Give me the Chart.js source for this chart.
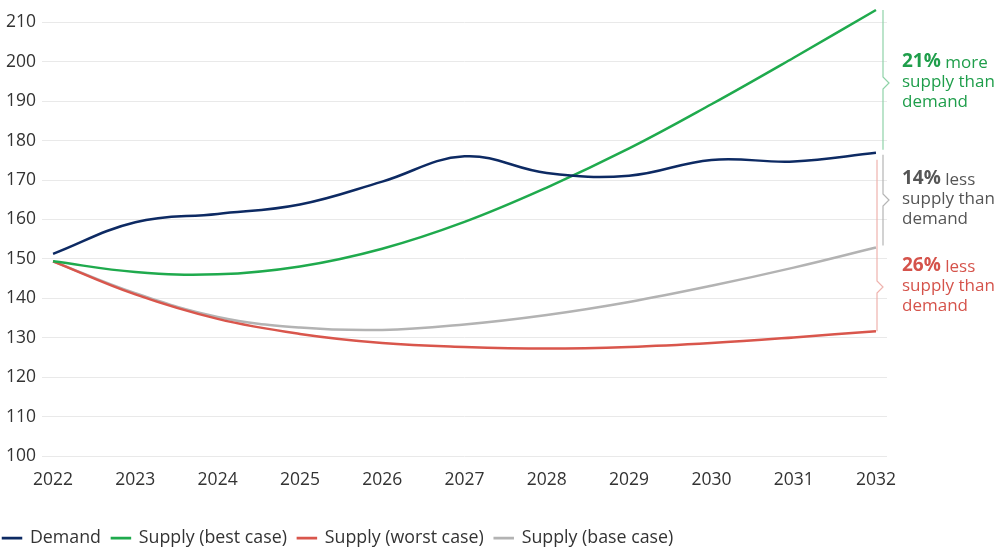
<!DOCTYPE html>
<html>
<head>
<meta charset="utf-8">
<script src="https://cdn.jsdelivr.net/npm/chart.js@4.4.1/dist/chart.umd.min.js"></script>
<style>
  html, body { margin: 0; padding: 0; background: #fff; }
  #wrap { width: 1000px; height: 557px; position: relative; }
</style>
</head>
<body>
<div id="wrap"><canvas id="chart"></canvas></div>
<script>
var years = [2022, 2023, 2024, 2025, 2026, 2027, 2028, 2029, 2030, 2031, 2032];
var demand = [151.3, 159.3, 161.4, 163.8, 169.6, 176.0, 171.8, 171.1, 175.1, 174.7, 176.9];
var supplyBest = [149.4, 146.7, 146.1, 148.1, 152.6, 159.4, 168.1, 178.0, 189.2, 201.0, 213.1];
var supplyWorst = [149.4, 141.0, 134.8, 131.0, 128.7, 127.7, 127.3, 127.7, 128.7, 130.1, 131.7];
var supplyBase = [149.4, 141.3, 135.3, 132.6, 132.0, 133.4, 135.8, 139.1, 143.2, 147.8, 152.9];
var yTicks = [100, 110, 120, 130, 140, 150, 160, 170, 180, 190, 200, 210];

var notes = [
  { big: '21%', rest: ' more', color: '#1f9e4b', line: '#8fd3a8' },
  { big: '14%', rest: ' less', color: '#555555', line: '#b5b5b5' },
  { big: '26%', rest: ' less', color: '#d5534b', line: '#efb3ae' }
];

function pts(arr) {
  return arr.map(function(v, i) { return { x: years[i], y: v }; });
}

function series(label, data, color) {
  return {
    label: label,
    data: pts(data),
    borderColor: color,
    backgroundColor: color,
    borderWidth: 2.5,
    pointRadius: 0,
    tension: 0.4,
    fill: false,
    clip: false
  };
}

// brackets + text on the right
var bracketPlugin = {
  id: 'brackets',
  afterLayout: function(chart) {
    // pull the legend a bit to the left edge
    chart.legend.left -= 8;
    chart.legend.right -= 8;
  },
  afterDraw: function(chart) {
    var ctx = chart.ctx;
    var ys = chart.scales.y;
    var last = years.length - 1;
    var px = function(v) { return ys.getPixelForValue(v); };
    var dem = px(demand[last]);
    var ranges = [
      { x: 883, top: px(supplyBest[last]), bottom: dem - 3 },
      { x: 883, top: dem + 2, bottom: px(supplyBase[last]) - 2 },
      { x: 877, top: dem + 7, bottom: px(supplyWorst[last]) }
    ];
    var mids = [83, 200, 287];
    ctx.save();
    ranges.forEach(function(r, i) {
      var n = notes[i];
      var mid = mids[i];
      ctx.strokeStyle = n.line;
      ctx.lineWidth = 1.2;
      ctx.beginPath();
      ctx.moveTo(r.x, r.top);
      ctx.lineTo(r.x, mid - 6);
      ctx.lineTo(r.x + 6, mid);
      ctx.lineTo(r.x, mid + 6);
      ctx.lineTo(r.x, r.bottom);
      ctx.stroke();

      ctx.fillStyle = n.color;
      ctx.textBaseline = 'middle';
      ctx.textAlign = 'left';
      ctx.font = 'bold 19px "Open Sans"';
      ctx.fillText(n.big, 902, mid - 21);
      var w = ctx.measureText(n.big).width;
      ctx.font = '17px "Open Sans"';
      ctx.fillText(n.rest, 902 + w, mid - 20);
      ctx.fillText('supply than', 902, mid - 1);
      ctx.fillText('demand', 902, mid + 19);
    });
    ctx.restore();
  }
};

Chart.defaults.font.family = '"Open Sans", sans-serif';
Chart.defaults.font.size = 17.5;
Chart.defaults.color = '#333333';

new Chart(document.getElementById('chart'), {
  type: 'line',
  data: {
    datasets: [
      series('Demand', demand, '#0d2a63'),
      series('Supply (best case)', supplyBest, '#1faa4d'),
      series('Supply (worst case)', supplyWorst, '#d9564c'),
      series('Supply (base case)', supplyBase, '#b3b3b3')
    ]
  },
  options: {
    responsive: true,
    maintainAspectRatio: false,
    animation: false,
    layout: { padding: { left: 0, right: 113, top: 8, bottom: 0 } },
    scales: {
      x: {
        type: 'linear',
        min: 2021.866,
        max: 2032.134,
        grid: { display: false },
        border: { display: false },
        ticks: {
          padding: 5,
          color: '#333',
          callback: function(v) { return String(v); }
        },
        afterBuildTicks: function(scale) {
          scale.ticks = years.map(function(y) { return { value: y }; });
        },
        afterFit: function(scale) {
          scale.height += 23;
          scale.paddingLeft = 0;
          scale.paddingRight = 0;
        }
      },
      y: {
        min: 100,
        max: 213.6,
        grid: { color: '#e9e9e9', drawTicks: false },
        border: { display: false },
        ticks: { padding: 6, color: '#333' },
        afterBuildTicks: function(scale) {
          scale.ticks = yTicks.map(function(v) { return { value: v }; });
        },
        afterFit: function(scale) {
          scale.paddingTop = 0;
          scale.paddingBottom = 0;
        }
      }
    },
    plugins: {
      legend: {
        position: 'bottom',
        align: 'start',
        labels: { boxWidth: 18, boxHeight: 0.1, padding: 11, color: '#333', font: { size: 17.8 } }
      },
      tooltip: { enabled: false }
    }
  },
  plugins: [bracketPlugin]
});
</script>
</body>
</html>
